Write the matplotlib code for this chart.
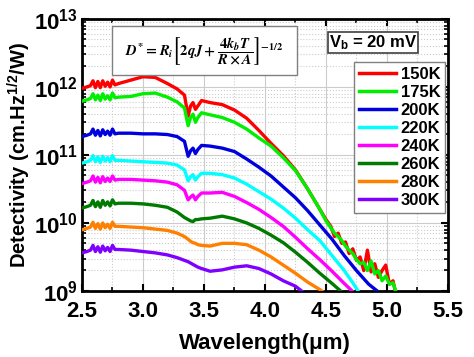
import numpy as np
import matplotlib
matplotlib.use("Agg")
import matplotlib.pyplot as plt
from matplotlib.patches import Rectangle
from matplotlib.ticker import FixedLocator, FixedFormatter, MultipleLocator

plt.rcParams['font.family'] = ['Liberation Sans', 'DejaVu Sans']
plt.rcParams['font.weight'] = 'bold'
plt.rcParams['mathtext.fontset'] = 'custom'
plt.rcParams['mathtext.rm'] = 'Liberation Sans:bold'
plt.rcParams['mathtext.bf'] = 'Liberation Sans:bold'
plt.rcParams['mathtext.it'] = 'Liberation Sans:bold'

# longueurs d'onde communes (µm)
wl_main = [2.50, 2.54, 2.57, 2.59, 2.61, 2.63, 2.65, 2.67, 2.69, 2.71, 2.73, 2.75,
           2.77, 2.80, 2.90, 3.00, 3.10, 3.20, 3.28, 3.34, 3.37, 3.39, 3.41, 3.43,
           3.45, 3.48, 3.55, 3.65, 3.75, 3.85, 3.95, 4.05, 4.15, 4.25, 4.35, 4.45]

# log10 de la détectivité
log_150 = [11.98, 12.00, 12.02, 12.09, 11.99, 12.08, 11.99, 12.09, 12.01, 12.07, 12.00, 12.10,
           12.03, 12.05, 12.10, 12.15, 12.14, 12.05, 11.97, 11.88, 11.57, 11.72, 11.77, 11.67,
           11.72, 11.80, 11.77, 11.74, 11.66, 11.54, 11.36, 11.17, 10.99, 10.78, 10.50, 10.20]
log_175 = [11.79, 11.81, 11.83, 11.90, 11.81, 11.88, 11.80, 11.90, 11.82, 11.87, 11.81, 11.91,
           11.84, 11.85, 11.86, 11.90, 11.91, 11.85, 11.78, 11.69, 11.43, 11.55, 11.60, 11.48,
           11.55, 11.62, 11.59, 11.55, 11.48, 11.38, 11.25, 11.13, 10.96, 10.77, 10.50, 10.20]
log_200 = [11.27, 11.29, 11.31, 11.38, 11.29, 11.36, 11.28, 11.37, 11.30, 11.35, 11.29, 11.38,
           11.31, 11.32, 11.32, 11.31, 11.31, 11.30, 11.27, 11.20, 10.98, 11.06, 11.10, 11.02,
           11.08, 11.14, 11.13, 11.10, 11.05, 10.94, 10.82, 10.69, 10.53, 10.37, 10.18, 9.97]
log_220 = [10.88, 10.90, 10.92, 10.99, 10.90, 10.97, 10.89, 10.98, 10.91, 10.96, 10.90, 10.99,
           10.92, 10.92, 10.91, 10.90, 10.89, 10.88, 10.85, 10.78, 10.62, 10.68, 10.71, 10.63,
           10.68, 10.73, 10.73, 10.71, 10.66, 10.57, 10.46, 10.35, 10.22, 10.07, 9.90, 9.74]
log_240 = [10.58, 10.60, 10.62, 10.69, 10.60, 10.67, 10.59, 10.68, 10.61, 10.66, 10.61, 10.69,
           10.63, 10.64, 10.64, 10.63, 10.62, 10.60, 10.56, 10.48, 10.34, 10.38, 10.41, 10.34,
           10.39, 10.44, 10.44, 10.45, 10.39, 10.30, 10.20, 10.08, 9.95, 9.79, 9.62, 9.46]
log_260 = [10.22, 10.24, 10.26, 10.33, 10.24, 10.31, 10.23, 10.33, 10.26, 10.31, 10.25, 10.34,
           10.28, 10.29, 10.29, 10.28, 10.26, 10.23, 10.16, 10.08, 10.05, 10.03, 10.02, 10.05,
           10.05, 10.06, 10.07, 10.10, 10.06, 10.00, 9.92, 9.82, 9.71, 9.57, 9.42, 9.26]
log_280 = [9.90, 9.92, 9.94, 10.01, 9.92, 9.99, 9.91, 10.00, 9.93, 9.98, 9.92, 10.01,
           9.95, 9.95, 9.94, 9.93, 9.91, 9.89, 9.85, 9.80, 9.76, 9.73, 9.71, 9.70,
           9.68, 9.67, 9.66, 9.70, 9.70, 9.68, 9.60, 9.50, 9.38, 9.26, 9.13, 9.02]
log_300 = [9.56, 9.58, 9.60, 9.67, 9.58, 9.65, 9.57, 9.66, 9.59, 9.64, 9.58, 9.67,
           9.61, 9.61, 9.60, 9.58, 9.56, 9.53, 9.49, 9.45, 9.43, 9.41, 9.39, 9.37,
           9.35, 9.33, 9.29, 9.31, 9.35, 9.37, 9.33, 9.25, 9.15, 9.07, 8.93, 8.80]

# fins de courbes (bruitées pour 150K et 175K)
wl_tail_noisy = [4.50, 4.54, 4.57, 4.60, 4.63, 4.66, 4.69, 4.72, 4.75, 4.78,
                 4.81, 4.84, 4.87, 4.90, 4.93, 4.96, 4.99, 5.02, 5.05, 5.08]
tail_150 = [10.05, 9.95, 9.80, 9.85, 9.70, 9.72, 9.55, 9.62, 9.45, 9.50,
            9.30, 9.60, 9.28, 9.40, 9.20, 9.30, 9.38, 9.10, 9.15, 8.90]
tail_175 = [10.03, 9.93, 9.85, 9.80, 9.74, 9.66, 9.60, 9.55, 9.46, 9.40,
            9.42, 9.30, 9.44, 9.25, 9.30, 9.15, 9.22, 9.10, 9.12, 8.95]
wl_tail_200 = [4.55, 4.65, 4.75, 4.85, 4.92, 4.95]
tail_200 = [9.76, 9.52, 9.30, 9.10, 9.00, 8.95]
wl_tail_220 = [4.55, 4.65, 4.72, 4.77, 4.80]
tail_220 = [9.52, 9.30, 9.12, 8.98, 8.90]
wl_tail_240 = [4.55, 4.65, 4.72, 4.75]
tail_240 = [9.29, 9.11, 8.99, 8.90]
wl_tail_260 = [4.55, 4.62, 4.65]
tail_260 = [9.11, 9.00, 8.93]
wl_tail_280 = [4.48, 4.52]
tail_280 = [8.98, 8.90]

labels = ['150K', '175K', '200K', '220K', '240K', '260K', '280K', '300K']
colors = ['#ff0000', '#00ee00', '#0000dd', '#00ffff', '#ff00ff', '#007a00', '#ff8000', '#8000ff']

series = [
    (wl_main + wl_tail_noisy, log_150 + tail_150),
    (wl_main + wl_tail_noisy, log_175 + tail_175),
    (wl_main + wl_tail_200, log_200 + tail_200),
    (wl_main + wl_tail_220, log_220 + tail_220),
    (wl_main + wl_tail_240, log_240 + tail_240),
    (wl_main + wl_tail_260, log_260 + tail_260),
    (wl_main + wl_tail_280, log_280 + tail_280),
    (wl_main, log_300),
]

fig = plt.figure(figsize=(4.74, 3.57), dpi=100)
ax = fig.add_axes([0.173, 0.185, 0.772, 0.762])

for (x, lg), lab, c in zip(series, labels, colors):
    ax.plot(x, 10 ** np.array(lg), color=c, lw=2.4, label=lab, zorder=3,
            solid_joinstyle='round')

ax.set_yscale('log')
ax.set_xlim(2.5, 5.5)
ax.set_ylim(1e9, 1e13)

ax.xaxis.set_major_locator(MultipleLocator(0.5))
ax.xaxis.set_minor_locator(MultipleLocator(0.25))
ax.set_xticklabels([f'{v:.1f}' for v in ax.get_xticks()])
yt = [1e9, 1e10, 1e11, 1e12, 1e13]
ax.yaxis.set_major_locator(FixedLocator(yt))
ax.yaxis.set_major_formatter(FixedFormatter([r'$\mathbf{10^{%d}}$' % e for e in range(9, 14)]))

ax.tick_params(which='both', direction='in', top=True, right=True, labelsize=16)
ax.tick_params(which='major', length=5, width=1.5)
ax.tick_params(which='minor', length=3, width=1.2)
ax.tick_params(axis='x', which='major', pad=7)
ax.tick_params(axis='y', which='major', pad=3)
for s in ax.spines.values():
    s.set_linewidth(2)

ax.grid(True, which='major', color='#cccccc', lw=0.8, ls='-')
ax.grid(True, which='minor', color='#cccccc', lw=0.8, ls=':')
ax.set_axisbelow(True)

ax.set_xlabel('Wavelength(μm)', fontsize=16, fontweight='bold', labelpad=8)
ax.set_ylabel(r'Detectivity (cm.Hz$^{\mathbf{1/2}}$/W)', fontsize=14.5, fontweight='bold', labelpad=1)

# boîte de la formule
fig.patches.append(Rectangle((0.236, 0.790), 0.390, 0.137, transform=fig.transFigure,
                             facecolor='white', edgecolor='#808080', lw=1.0, zorder=5))
fig.text(0.431, 0.856, r'$D^{*}=R_{i}\left[2qJ+\dfrac{4k_{b}T}{R\times A}\right]^{-1/2}$',
         math_fontfamily='stix', fontsize=10.5, ha='center', va='center', zorder=6)

# boîte Vb
fig.patches.append(Rectangle((0.692, 0.852), 0.190, 0.059, transform=fig.transFigure,
                             facecolor='white', edgecolor='#404040', lw=1.2, zorder=5))
fig.text(0.787, 0.880, r'V$_{\mathbf{b}}$ = 20 mV', fontsize=12, fontweight='bold',
         ha='center', va='center', zorder=6)

leg = ax.legend(loc='upper left', bbox_to_anchor=(0.747, 0.826), bbox_transform=fig.transFigure,
                borderaxespad=0, frameon=True, fancybox=False, framealpha=1,
                edgecolor='#808080', fontsize=12, handlelength=2.2, handletextpad=0.3,
                labelspacing=0.18, borderpad=0.3)
for t in leg.get_texts():
    t.set_fontweight('bold')
for h in leg.get_lines():
    h.set_linewidth(2.5)

fig.savefig('out.png', dpi=100)
